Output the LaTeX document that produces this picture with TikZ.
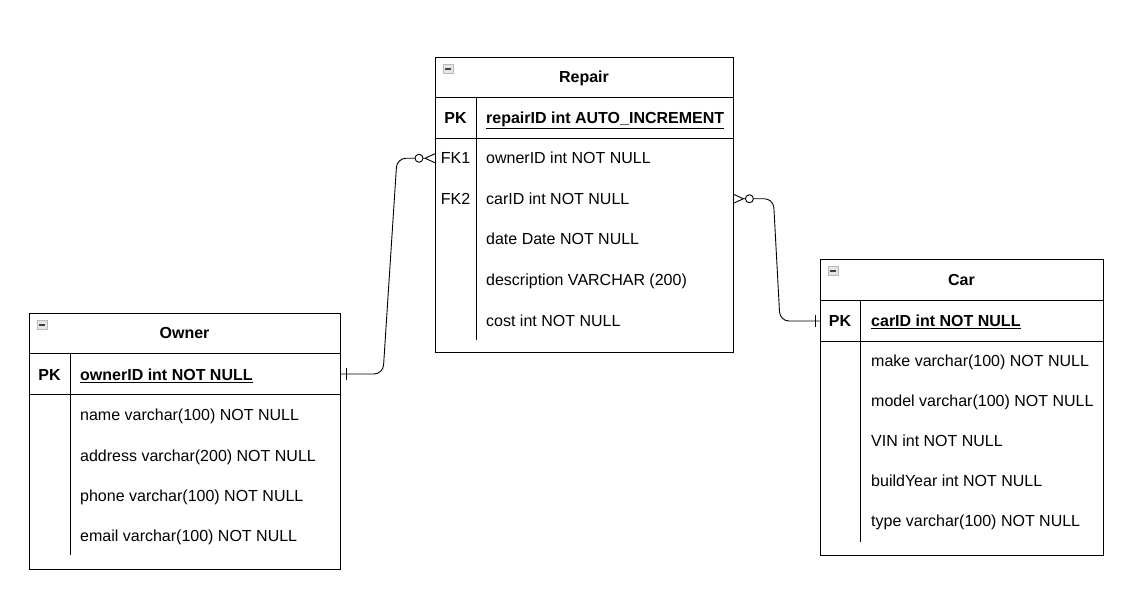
\documentclass[tikz,border=0pt]{standalone}
\usepackage{fontspec}
\setmainfont{Liberation Sans}
\tikzset{
  entity/.style={draw, line width=1pt, anchor=north west, inner sep=0pt},
  pkrow/.style={draw, line width=1pt, anchor=north west, inner sep=0pt, minimum height=41pt},
  fieldrow/.style={anchor=west, inner sep=0pt, minimum height=40pt},
  keylabel/.style={inner sep=0pt, text height=11.5pt, text depth=0pt,
    font=\fontsize{16}{19}\selectfont},
  fieldlabel/.style={anchor=west, inner sep=0pt, text height=11.5pt, text depth=0pt,
    font=\fontsize{16}{19}\selectfont},
  titlelabel/.style={inner sep=0pt, text height=11.5pt, text depth=0pt,
    font=\fontsize{16}{19}\selectfont\bfseries},
  collapse/.style={draw=gray!55, fill=gray!20, line width=0.6pt, minimum width=10pt,
    minimum height=9pt, inner sep=0pt, path picture={
      \draw[black!75, line width=1.4pt] ([xshift=2pt]path picture bounding box.west)
        -- ([xshift=-2pt]path picture bounding box.east);}},
  relation/.style={line width=0.9pt, rounded corners=9pt}
}
\begin{document}
\begin{tikzpicture}[x=1pt,y=-1pt]
\useasboundingbox (0,0) rectangle (1124,612);
% Repair
\node[entity, minimum width=298pt, minimum height=295pt] (repair) at (435,57) {};
\node[collapse] (repair-icon) at (448,69) {};
\node[titlelabel] (repair-title) at (584,77) {Repair};
\node[pkrow, minimum width=298pt] (repair-pk) at (435,97) {};
\node[keylabel, font=\fontsize{16}{19}\selectfont\bfseries] (repair-pkkey) at (455.5,118) {PK};
\node[fieldlabel, font=\fontsize{16}{19}\selectfont\bfseries] (repair-pkfield) at (486,118)
  {\underline{repairID int AUTO\_INCREMENT}};
\draw[line width=1pt] ([xshift=41pt]repair-pk.north west) -- ++(0,243);
\foreach \k/\t [count=\i] in {FK1/ownerID int NOT NULL, FK2/carID int NOT NULL,
                             /date Date NOT NULL, /description VARCHAR (200),
                             /cost int NOT NULL}{
  \node[fieldrow, minimum width=298pt] (repair-row\i) at (435,{158.25+40.5*(\i-1)}) {};
  \node[keylabel] (repair-key\i) at ([xshift=20.5pt]repair-row\i.west) {\k};
  \node[fieldlabel] (repair-field\i) at ([xshift=51pt]repair-row\i.west) {\t};
}
% Owner
\node[entity, minimum width=311pt, minimum height=256pt] (owner) at (29,313) {};
\node[collapse] (owner-icon) at (42,325) {};
\node[titlelabel] (owner-title) at (184.5,333) {Owner};
\node[pkrow, minimum width=311pt] (owner-pk) at (29,353) {};
\node[keylabel, font=\fontsize{16}{19}\selectfont\bfseries] (owner-pkkey) at (49.5,375) {PK};
\node[fieldlabel, font=\fontsize{16}{19}\selectfont\bfseries] (owner-pkfield) at (80,375)
  {\underline{ownerID int NOT NULL}};
\draw[line width=1pt] ([xshift=41pt]owner-pk.north west) -- ++(0,202);
\foreach \t [count=\i] in {name varchar(100) NOT NULL, address varchar(200) NOT NULL,
                          phone varchar(100) NOT NULL, email varchar(100) NOT NULL}{
  \node[fieldrow, minimum width=311pt] (owner-row\i) at (29,{415+40.3*(\i-1)}) {};
  \node[fieldlabel] (owner-field\i) at ([xshift=51pt]owner-row\i.west) {\t};
}
% Car
\node[entity, minimum width=283pt, minimum height=296pt] (car) at (820,259) {};
\node[collapse] (car-icon) at (833,271) {};
\node[titlelabel] (car-title) at (961.5,280) {Car};
\node[pkrow, minimum width=283pt] (car-pk) at (820,300) {};
\node[keylabel, font=\fontsize{16}{19}\selectfont\bfseries] (car-pkkey) at (840,321) {PK};
\node[fieldlabel, font=\fontsize{16}{19}\selectfont\bfseries] (car-pkfield) at (871,321)
  {\underline{carID int NOT NULL}};
\draw[line width=1pt] ([xshift=40pt]car-pk.north west) -- ++(0,242);
\foreach \t [count=\i] in {make varchar(100) NOT NULL, model varchar(100) NOT NULL,
                          VIN int NOT NULL, buildYear int NOT NULL,
                          type varchar(100) NOT NULL}{
  \node[fieldrow, minimum width=283pt] (car-row\i) at (820,{361+40*(\i-1)}) {};
  \node[fieldlabel] (car-field\i) at ([xshift=51pt]car-row\i.west) {\t};
}
% relations
\draw[relation] (owner-pk.east) -- ++(42,0) -- ([xshift=-38pt]repair-row1.west)
  -- ([xshift=-20pt]repair-row1.west);
\draw[line width=0.9pt] ([xshift=5pt,yshift=6pt]owner-pk.east) -- ++(0,-12pt);
\draw[line width=0.9pt] ([xshift=-10pt]repair-row1.west) -- ++(10,-4.5)
  ([xshift=-10pt]repair-row1.west) -- ++(10,4.5)
  ([xshift=-12pt]repair-row1.west) -- ([xshift=-10pt]repair-row1.west);
\draw[line width=0.9pt, fill=white] ([xshift=-16pt]repair-row1.west) circle[radius=4pt];
\draw[relation] ([xshift=20pt]repair-row2.east) -- ++(20,0) -- ([xshift=-40pt]car-pk.east -| car-pk.west)
  -- (car-pk.west);
\draw[line width=0.9pt] ([xshift=-5pt,yshift=6pt]car-pk.west) -- ++(0,-12pt);
\draw[line width=0.9pt] ([xshift=10pt]repair-row2.east) -- ++(-10,-4.5)
  ([xshift=10pt]repair-row2.east) -- ++(-10,4.5)
  ([xshift=12pt]repair-row2.east) -- ([xshift=10pt]repair-row2.east);
\draw[line width=0.9pt, fill=white] ([xshift=16pt]repair-row2.east) circle[radius=4pt];
\end{tikzpicture}
\end{document}
